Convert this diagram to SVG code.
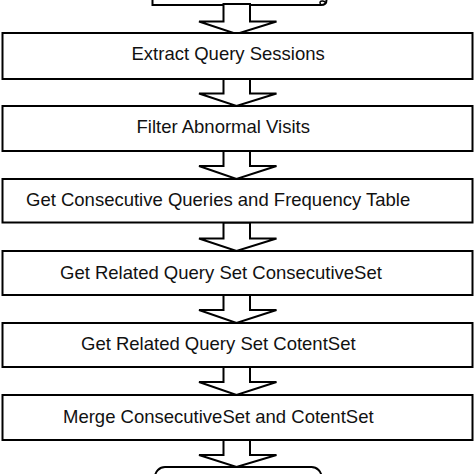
<svg xmlns="http://www.w3.org/2000/svg" width="474" height="474" viewBox="0 0 474 474">
<style>
  .box { fill: #ffffff; stroke: #000000; stroke-width: 2; }
  .arrow { fill: #ffffff; stroke: #000000; stroke-width: 2; stroke-linejoin: miter; }
  .label { font-family: "Liberation Sans", Arial, sans-serif; font-size: 18.5px; fill: #111111; }
</style>
<rect x="0" y="0" width="474" height="474" fill="#ffffff"/>

<g id="start">
  <path class="box" d="M152.5,-4 V5 H321 Q326.5,5 326.5,0 V-4"/>
  <path d="M321,5 Q318.5,1.5 322,1 Q325.5,0.8 325.5,3.5" fill="none" stroke="#000" stroke-width="1.5"/>
</g>

<g id="connectors">
  <polygon class="arrow" points="223.5,4 223.5,21.5 199,21.5 236.5,34 276.5,21.5 250,21.5 250,4"/>
  <polygon class="arrow" points="223.5,79 223.5,93.5 199,93.5 236.5,106 276.5,93.5 250,93.5 250,79"/>
  <polygon class="arrow" points="223.5,151 223.5,166 199,166 236.5,179 276.5,166 250,166 250,151"/>
  <polygon class="arrow" points="223.5,222.5 223.5,238.5 199,238.5 236.5,251 276.5,238.5 250,238.5 250,222.5"/>
  <polygon class="arrow" points="223.5,295 223.5,310 199,310 236.5,323 276.5,310 250,310 250,295"/>
  <polygon class="arrow" points="223.5,367 223.5,382 199,382 236.5,395 276.5,382 250,382 250,367"/>
  <polygon class="arrow" points="223.5,440 223.5,455 199,455 236.5,467 276.5,455 250,455 250,440"/>
</g>

<g id="n1">
  <rect class="box" x="2.5" y="33" width="470" height="46"/>
  <text class="label" x="131.5" y="59.5">Extract Query Sessions</text>
</g>
<g id="n2">
  <rect class="box" x="2.5" y="106" width="470" height="45"/>
  <text class="label" x="136.5" y="133">Filter Abnormal Visits</text>
</g>
<g id="n3">
  <rect class="box" x="2.5" y="179" width="470" height="43.5"/>
  <text class="label" x="26" y="206">Get Consecutive Queries and Frequency Table</text>
</g>
<g id="n4">
  <rect class="box" x="2.5" y="251" width="470" height="44"/>
  <text class="label" x="60" y="279">Get Related Query Set ConsecutiveSet</text>
</g>
<g id="n5">
  <rect class="box" x="2.5" y="323" width="470" height="44"/>
  <text class="label" x="81" y="350">Get Related Query Set CotentSet</text>
</g>
<g id="n6">
  <rect class="box" x="2.5" y="395" width="470" height="45"/>
  <text class="label" x="63" y="423">Merge ConsecutiveSet and CotentSet</text>
</g>
<g id="end">
  <rect class="box" x="155" y="467" width="166.5" height="30" rx="10" ry="10"/>
</g>
</svg>
